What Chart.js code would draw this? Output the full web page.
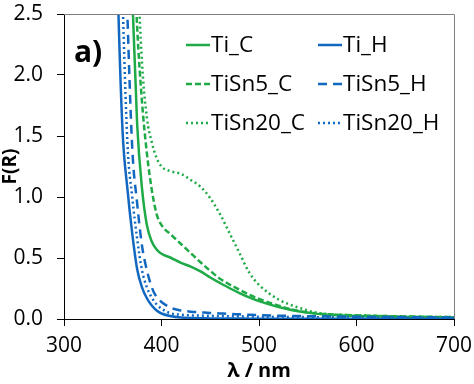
<!DOCTYPE html>
<html>
<head>
<meta charset="utf-8">
<script src="https://cdn.jsdelivr.net/npm/chart.js@4.4.1/dist/chart.umd.min.js"></script>
<style>
  html, body { margin: 0; padding: 0; background: #fff; }
  #wrap { width: 474px; height: 384px; position: relative; }
</style>
</head>
<body>
<div id="wrap"><canvas id="c" width="474" height="384"></canvas></div>
<script>
// wavelengths (nm)
const wavelengths = [350,355,360,365,370,375,380,385,390,395,400,410,420,430,440,450,460,470,480,490,500,520,540,560,580,600,650,700];
// F(R) values per series
const tiC      = [9.0,7.0,5.5,4.0,2.65,1.6,1.07,0.77,0.635,0.57,0.535,0.5,0.46,0.43,0.39,0.34,0.295,0.252,0.213,0.177,0.146,0.098,0.063,0.042,0.031,0.025,0.017,0.012];
const tiSn5C   = [10.0,8.0,6.5,4.8,3.4,2.4,1.78,1.36,1.06,0.86,0.77,0.69,0.615,0.54,0.465,0.395,0.33,0.282,0.24,0.2,0.165,0.11,0.067,0.045,0.035,0.03,0.021,0.015];
const tiSn20C  = [11.0,9.0,7.5,5.8,4.3,3.0,2.1,1.65,1.45,1.32,1.25,1.21,1.19,1.14,1.085,0.99,0.86,0.7,0.54,0.38,0.28,0.16,0.095,0.05,0.036,0.03,0.02,0.015];
const tiH      = [4.5,2.75,1.55,1.07,0.7,0.41,0.26,0.17,0.11,0.07,0.045,0.022,0.012,0.008,0.006,0.005,0.004,0.004,0.004,0.003,0.003,0.003,0.003,0.003,0.002,0.002,0.002,0.002];
const tiSn5H   = [7.0,5.5,3.9,2.5,1.4,0.95,0.6,0.4,0.26,0.18,0.14,0.09,0.07,0.06,0.055,0.05,0.046,0.042,0.038,0.034,0.031,0.027,0.024,0.022,0.02,0.018,0.015,0.012];
const tiSn20H  = [6.0,4.2,2.65,1.45,1.0,0.66,0.4,0.26,0.175,0.12,0.085,0.045,0.035,0.03,0.028,0.026,0.025,0.023,0.022,0.02,0.019,0.017,0.016,0.015,0.014,0.013,0.011,0.01];

const seriesNames = ['Ti_C','TiSn5_C','TiSn20_C','Ti_H','TiSn5_H','TiSn20_H'];
const xTicks = [300,400,500,600,700];
const yTicks = [0.0,0.5,1.0,1.5,2.0,2.5];

const GREEN = '#1EAA46';
const BLUE = '#1268C0';

function pts(vals) { return wavelengths.map((w, i) => ({ x: w, y: vals[i] })); }

const styles = [
  { color: GREEN, dash: [], order: 2 },
  { color: GREEN, dash: [6, 3], order: 2 },
  { color: GREEN, dash: [2, 3], order: 2 },
  { color: BLUE, dash: [], order: 1 },
  { color: BLUE, dash: [9, 6], order: 1 },
  { color: BLUE, dash: [2, 3], order: 1 }
];
const values = [tiC, tiSn5C, tiSn20C, tiH, tiSn5H, tiSn20H];

const datasets = seriesNames.map((name, i) => ({
  label: name,
  data: pts(values[i]),
  borderColor: styles[i].color,
  backgroundColor: styles[i].color,
  borderDash: styles[i].dash,
  borderWidth: 2.5,
  pointRadius: 0,
  cubicInterpolationMode: 'monotone',
  order: styles[i].order,
  clip: 0
}));

const frame = {
  id: 'frame',
  afterDatasetsDraw(chart) {
    const { ctx, chartArea: a } = chart;
    ctx.save();
    ctx.strokeStyle = '#7f7f7f';
    ctx.lineWidth = 1;
    ctx.beginPath();
    ctx.moveTo(a.left, a.top + 0.5);
    ctx.lineTo(a.right + 0.5, a.top + 0.5);
    ctx.lineTo(a.right + 0.5, a.bottom);
    ctx.stroke();
    // panel label
    ctx.fillStyle = '#000';
    ctx.font = 'bold 30px "Open Sans"';
    ctx.textBaseline = 'alphabetic';
    ctx.textAlign = 'left';
    ctx.fillText('a)', 74, 62);
    // legend, two columns
    const cols = [186, 318];
    const rows = [45, 84, 123];
    ctx.font = '22.5px "Open Sans"';
    ctx.textBaseline = 'middle';
    chart.data.datasets.forEach((ds, i) => {
      const col = Math.floor(i / 3), row = i % 3;
      const x = cols[col], y = rows[row];
      ctx.strokeStyle = ds.borderColor;
      ctx.lineWidth = ds.borderWidth;
      ctx.setLineDash(ds.borderDash);
      ctx.beginPath();
      ctx.moveTo(x, y);
      ctx.lineTo(x + 24, y);
      ctx.stroke();
      ctx.setLineDash([]);
      ctx.fillStyle = '#000';
      ctx.fillText(ds.label, x + 25, y + 1);
    });
    ctx.restore();
  }
};

new Chart(document.getElementById('c'), {
  type: 'line',
  data: { datasets },
  options: {
    responsive: false,
    animation: false,
    events: [],
    layout: { padding: { top: 14, right: 20, left: 0, bottom: 0 } },
    plugins: { legend: { display: false }, tooltip: { enabled: false } },
    scales: {
      x: {
        type: 'linear',
        min: 300, max: 700,
        afterBuildTicks(s) { s.ticks = xTicks.map(v => ({ value: v })); },
        afterFit(s) { s.height = 65; s.paddingLeft = 0; s.paddingRight = 0; },
        grid: { drawOnChartArea: false, drawTicks: true, tickLength: 7, color: '#000' },
        border: { display: true, color: '#000', width: 1 },
        ticks: { color: '#000', font: { family: 'Open Sans', size: 21 }, padding: 7, maxRotation: 0, callback: v => String(v) },
        title: { display: true, text: 'λ / nm', color: '#000', font: { family: 'Open Sans', size: 20, weight: 'bold', lineHeight: 1.1 }, padding: { top: 0, bottom: 2 } }
      },
      y: {
        type: 'linear',
        min: 0, max: 2.5,
        afterBuildTicks(s) { s.ticks = yTicks.map(v => ({ value: v })); },
        afterFit(s) { s.width = 64; s.paddingTop = 0; s.paddingBottom = 0; },
        grid: { drawOnChartArea: false, drawTicks: true, tickLength: 7, color: '#000' },
        border: { display: true, color: '#000', width: 1 },
        ticks: { color: '#000', font: { family: 'Open Sans', size: 21 }, padding: 14, callback: v => Number(v).toFixed(1) },
        title: { display: true, text: 'F(R)', color: '#000', font: { family: 'Open Sans', size: 19, weight: 'bold', lineHeight: 1.1 }, padding: { top: 0, bottom: 0 } }
      }
    }
  },
  plugins: [frame]
});
</script>
</body>
</html>
